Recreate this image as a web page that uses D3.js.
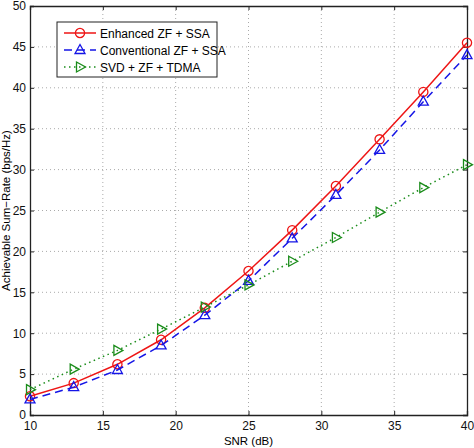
<!DOCTYPE html>
<html>
<head>
<meta charset="utf-8">
<script src="https://cdn.jsdelivr.net/npm/d3@7"></script>
<style>
  html, body { margin: 0; padding: 0; background: #fff; }
  svg { display: block; font-family: "Liberation Sans", Arial, sans-serif; }
</style>
</head>
<body>
<svg id="chart" width="474" height="448"></svg>
<script>
// SNR points and sum-rates
const snr = [10, 13, 16, 19, 22, 25, 28, 31, 34, 37, 40];
const enhancedZF = [2.3, 3.9, 6.2, 9.2, 13.1, 17.6, 22.6, 28.0, 33.7, 39.5, 45.5];
const conventionalZF = [1.9, 3.4, 5.5, 8.5, 12.2, 16.4, 21.6, 26.9, 32.4, 38.3, 44.0];
const svdTDMA = [3.1, 5.6, 7.9, 10.5, 13.2, 15.9, 18.8, 21.7, 24.8, 27.8, 30.6];
const xTicks = [10, 15, 20, 25, 30, 35, 40];
const yTicks = [0, 5, 10, 15, 20, 25, 30, 35, 40, 45, 50];

const width = 474, height = 448;
const margin = { top: 6, right: 7, bottom: 33, left: 30 };

const svg = d3.select("#chart");

const x = d3.scaleLinear().domain([10, 40]).range([margin.left, width - margin.right]);
const y = d3.scaleLinear().domain([0, 50]).range([height - margin.bottom, margin.top]);

// dotted grid
svg.append("g")
    .selectAll("line.vg")
    .data(xTicks.slice(1, -1))
    .enter().append("line")
    .attr("x1", d => x(d)).attr("x2", d => x(d))
    .attr("y1", y(0)).attr("y2", y(50))
    .attr("stroke", "#aaa").attr("stroke-width", 1)
    .attr("stroke-dasharray", "1,3");

svg.append("g")
    .selectAll("line.hg")
    .data(yTicks.slice(1, -1))
    .enter().append("line")
    .attr("x1", x(10)).attr("x2", x(40))
    .attr("y1", d => y(d)).attr("y2", d => y(d))
    .attr("stroke", "#aaa").attr("stroke-width", 1)
    .attr("stroke-dasharray", "1,3");

// axes with inward ticks
svg.append("g")
    .attr("transform", `translate(0,${y(0)})`)
    .call(d3.axisBottom(x).tickValues(xTicks).tickSize(-4).tickPadding(6.5));
svg.append("g")
    .attr("transform", `translate(${x(10)},0)`)
    .call(d3.axisLeft(y).tickValues(yTicks).tickSize(-4).tickPadding(4));
svg.append("g")
    .attr("transform", `translate(0,${y(50)})`)
    .call(d3.axisTop(x).tickValues(xTicks).tickSize(-4).tickFormat(""));
svg.append("g")
    .attr("transform", `translate(${x(40)},0)`)
    .call(d3.axisRight(y).tickValues(yTicks).tickSize(-4).tickFormat(""));

svg.selectAll(".domain").attr("stroke", "#222").attr("stroke-width", 1.3);
svg.selectAll(".tick line").attr("stroke", "#222");
svg.selectAll(".tick text").attr("font-size", 12).attr("fill", "#111")
    .attr("font-family", "Liberation Sans, Arial, sans-serif");

// axis labels
svg.append("text")
    .attr("x", x(25)).attr("y", 445)
    .attr("text-anchor", "middle")
    .attr("font-size", 11.5)
    .text("SNR (dB)");

const yLabel = svg.append("text")
    .attr("transform", `translate(10,${y(25)}) rotate(-90)`)
    .attr("text-anchor", "middle")
    .attr("font-size", 11)
    .text("Achievable Sum\u2212Rate (bps/Hz)");
// fit the label to the length seen in the figure
const labelLen = yLabel.node().getComputedTextLength();
if (labelLen > 0) yLabel.attr("font-size", Math.min(11.5, 11 * 168 / labelLen));

const series = [
    { name: "Enhanced ZF + SSA", values: enhancedZF, color: "#ee1515", dash: null, marker: "circle" },
    { name: "Conventional ZF + SSA", values: conventionalZF, color: "#1515e6", dash: "8,5", marker: "up" },
    { name: "SVD + ZF + TDMA", values: svdTDMA, color: "#1a8c1a", dash: "1.5,3.5", marker: "right" }
];

const line = d3.line()
    .x(d => x(d[0]))
    .y(d => y(d[1]));

function marker(g, type, color) {
    if (type === "circle") {
        g.append("circle").attr("r", 4.6)
            .attr("fill", "none").attr("stroke", color).attr("stroke-width", 1.3);
    } else if (type === "up") {
        g.append("path").attr("d", "M0,-5.5L5,3.5L-5,3.5Z")
            .attr("fill", "none").attr("stroke", color).attr("stroke-width", 1.3);
    } else {
        g.append("path").attr("d", "M-3.5,-5L5.5,0L-3.5,5Z")
            .attr("fill", "none").attr("stroke", color).attr("stroke-width", 1.3);
    }
}

series.forEach(s => {
    const pts = snr.map((v, i) => [v, s.values[i]]);
    svg.append("path")
        .datum(pts)
        .attr("d", line)
        .attr("fill", "none")
        .attr("stroke", s.color)
        .attr("stroke-width", 1.5)
        .attr("stroke-dasharray", s.dash);
    pts.forEach(p => {
        const g = svg.append("g").attr("transform", `translate(${x(p[0])},${y(p[1])})`);
        marker(g, s.marker, s.color);
    });
});

// legend
const legend = svg.append("g").attr("transform", "translate(57,22)");
legend.append("rect")
    .attr("width", 160).attr("height", 55)
    .attr("fill", "#fff").attr("stroke", "#222").attr("stroke-width", 1);

series.forEach((s, i) => {
    const row = legend.append("g").attr("transform", `translate(0,${11 + i * 17})`);
    row.append("line")
        .attr("x1", 7).attr("x2", 39)
        .attr("stroke", s.color).attr("stroke-width", 1.5)
        .attr("stroke-dasharray", s.dash);
    const m = row.append("g").attr("transform", "translate(23,0)");
    marker(m, s.marker, s.color);
    row.append("text")
        .attr("x", 43).attr("y", 4.5)
        .attr("font-size", 12)
        .text(s.name);
});
</script>
</body>
</html>
